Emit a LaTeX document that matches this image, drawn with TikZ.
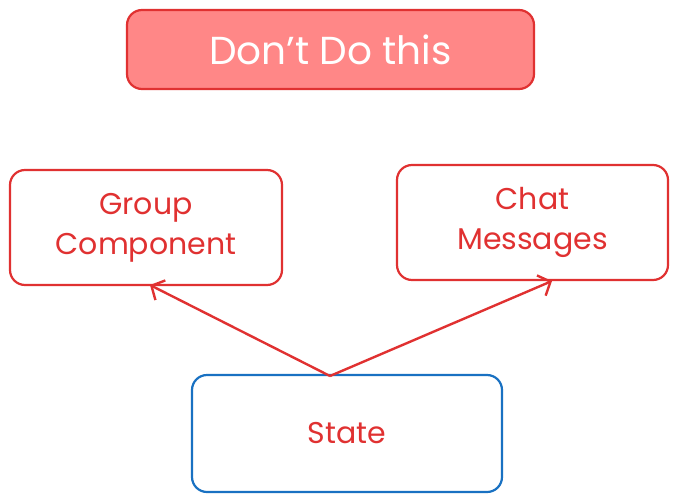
\documentclass[tikz,border=0pt]{standalone}
\usepackage{fontspec}
\setmainfont{Poppins}
\usetikzlibrary{arrows.meta}
\definecolor{exred}{HTML}{E03131}
\definecolor{exfill}{HTML}{FF8787}
\definecolor{exblue}{HTML}{1971C2}
\tikzset{
  box/.style={draw=exred, line width=2.2pt, rounded corners=15pt, text=exred, font=\fontsize{30}{40}\selectfont, align=center, inner sep=0pt},
  conn/.style={draw=exred, line width=2.4pt, -{Straight Barb[length=10pt,width=22pt,line width=2.4pt]}}
}
\begin{document}
\begin{tikzpicture}[x=1pt,y=-1pt]
\useasboundingbox (0,0) rectangle (679,503);
\node[box, fill=exfill, text=white, minimum width=407pt, minimum height=79pt, font=\fontsize{39}{44}\selectfont] (title) at (330.5,49.5) {Don't Do this};
\node[box, minimum width=272pt, minimum height=115pt] (group) at (146,227.5) {Group\\Component};
\node[box, minimum width=271pt, minimum height=115pt] (chat) at (532.5,222.5) {Chat\\Messages};
\node[box, draw=exblue, minimum width=310pt, minimum height=117pt] (state) at (347,433.5) {State};
\coordinate (s) at (330,376);
\coordinate (g) at (150,285);
\coordinate (c) at (552,281);
\draw[conn] (s) -- (g);
\draw[conn] (s) -- (c);
\end{tikzpicture}
\end{document}
